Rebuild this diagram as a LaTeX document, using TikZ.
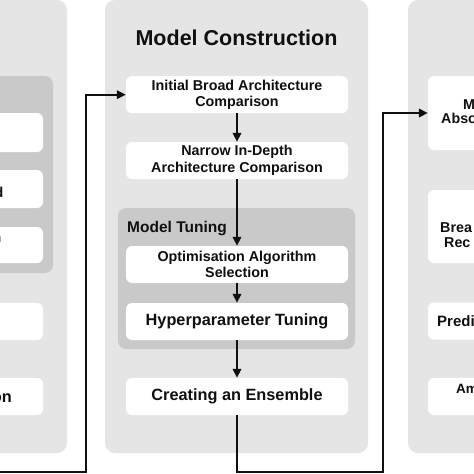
\documentclass[tikz,border=0pt]{standalone}
\usepackage{fontspec}
\setmainfont{Liberation Sans}
\usetikzlibrary{arrows.meta}
\definecolor{panelgray}{HTML}{E5E5E5}
\definecolor{groupgray}{HTML}{C9C9C9}
\definecolor{ink}{HTML}{101010}
\begin{document}
\begin{tikzpicture}[x=1pt,y=-1pt,
  panel/.style={fill=panelgray, rounded corners=10pt},
  grp/.style={fill=groupgray, rounded corners=8pt},
  wbox/.style={rectangle, fill=white, rounded corners=6pt, inner sep=0pt,
    minimum width=222pt, minimum height=37pt, align=center, text=ink,
    font=\fontsize{14.3}{16.6}\selectfont\bfseries},
  bigtxt/.style={font=\fontsize{16.3}{19}\selectfont\bfseries},
  frag/.style={inner sep=0pt, text=ink, font=\fontsize{14.3}{16.6}\selectfont\bfseries},
  conn/.style={line width=1.8pt, draw=ink},
  arr/.style={conn, -{Triangle[length=9pt,width=8.5pt]}}]
\useasboundingbox (0,0) rectangle (474,474);
\clip (0,0) rectangle (474,474);
\fill[white] (0,0) rectangle (474,474);

% panels
\path[panel] (-196,0) rectangle (67,453);
\path[panel] (105,0) rectangle (368,453);
\path[panel] (408,0) rectangle (671,453);

% left panel (mostly off-canvas)
\path[grp] (-200,76) rectangle (53,273);
\node[wbox, minimum height=39pt] (l1) at (-68,132.5) {};
\node[wbox, minimum height=38pt] (l2) at (-68,189) {};
\node[wbox, minimum height=36pt] (l3) at (-68,245) {};
\node[wbox] (l4) at (-68,321.5) {};
\node[wbox] (l5) at (-68,396.5) {};
\node[frag, anchor=base east] (l2t) at (3.5,197) {d};
\node[frag, anchor=base east] (l3t) at (1.5,242) {h};
\node[frag, font=\fontsize{16.3}{19}\selectfont\bfseries, anchor=base east] (l5t) at (12,402) {on};

% middle panel
\node[anchor=base, inner sep=0pt, text=ink, font=\fontsize{21.5}{25}\selectfont\bfseries] (title) at (236.5,45.7) {Model Construction};
\path[grp] (118,208) rectangle (355,349);
\node[anchor=base west, inner sep=0pt, text=ink, font=\fontsize{15.5}{18}\selectfont\bfseries] (tunlbl) at (127,232.7) {Model Tuning};
\node[wbox] (init) at (237,94.7) {Initial Broad Architecture\\Comparison};
\node[wbox] (narrow) at (237,160.5) {Narrow In-Depth\\Architecture Comparison};
\node[wbox] (opt) at (237,264.5) {Optimisation Algorithm\\Selection};
\node[wbox, bigtxt] (hyper) at (237,321.5) {Hyperparameter Tuning};
\node[wbox, bigtxt] (ens) at (237,396.5) {Creating an Ensemble};

% right panel (mostly off-canvas)
\node[wbox, minimum height=74pt] (r1) at (539,113) {};
\node[wbox, minimum height=73pt] (r2) at (539,226.5) {};
\node[wbox] (r3) at (539,321) {};
\node[wbox] (r4) at (539,396.5) {};
\node[frag, anchor=base west] (r1a) at (463,109) {M};
\node[frag, anchor=base west] (r1b) at (441,123.5) {Abso};
\node[frag, anchor=base west] (r2a) at (440,232) {Brea};
\node[frag, anchor=base west] (r2b) at (444,247) {Rec};
\node[frag, font=\fontsize{15}{18}\selectfont\bfseries, anchor=base west] (r3a) at (437,326.4) {Predi};
\node[frag, font=\fontsize{13.5}{16}\selectfont\bfseries, anchor=base west] (r4a) at (456,393.7) {Am};

% connectors
\coordinate (lsrc) at (-4,472);
\coordinate (lbend) at (86,472);
\draw[arr] (lsrc) -- (lbend) |- (init.west);
\draw[arr] (init.south) -- (narrow.north);
\draw[arr] (narrow.south) -- (opt.north);
\draw[arr] (opt.south) -- (hyper.north);
\draw[arr] (hyper.south) -- (ens.north);
\coordinate (rbend) at (383,472);
\draw[arr] (ens.south) |- (rbend) |- (r1.west);
\end{tikzpicture}
\end{document}
